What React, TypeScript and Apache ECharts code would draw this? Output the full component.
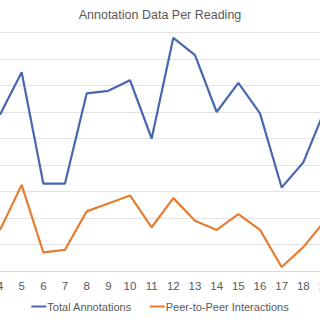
import React, { useEffect, useRef } from "react";
import * as echarts from "echarts";

// Readings shown on the x axis
const readings = ["4", "5", "6", "7", "8", "9", "10", "11", "12", "13", "14", "15", "16", "17", "18", "19"];

// Annotation counts per reading
const totalAnnotations = [59, 75, 33, 33, 67, 68, 72, 50, 88, 81.5, 60, 71, 59.5, 31.5, 41, 61];
const peerInteractions = [15.5, 32.5, 7, 8, 22.5, 25.5, 28.5, 16.5, 27.5, 19, 15.5, 21.5, 15.5, 1.5, 9, 19];

const seriesNames = ["Total Annotations", "Peer-to-Peer Interactions"];
const seriesColors = ["#4767ae", "#e67d31"];

const FONT = "Liberation Sans";

export default function App() {
  const ref = useRef<HTMLDivElement>(null);

  useEffect(() => {
    document.body.style.margin = "0";
    if (!ref.current) return;
    const chart = echarts.init(ref.current, undefined, { renderer: "svg" });
    chart.setOption({
      animation: false,
      backgroundColor: "#ffffff",
      textStyle: { fontFamily: FONT },
      title: {
        text: "Annotation Data Per Reading",
        left: "center",
        top: 3,
        textStyle: { fontFamily: FONT, fontSize: 12.5, fontWeight: "normal", color: "#595959" },
      },
      legend: {
        bottom: 3,
        left: "center",
        icon: "rect",
        itemWidth: 15,
        itemHeight: 2,
        itemGap: 18,
        textStyle: { fontFamily: FONT, fontSize: 11, color: "#595959", padding: [0, 0, 0, -4] },
        data: seriesNames,
      },
      grid: {
        left: 0,
        right: -5,
        top: 32.5,
        bottom: 49,
        containLabel: false,
        outerBoundsMode: "none",
      },
      xAxis: {
        type: "category",
        data: readings,
        boundaryGap: false,
        axisLine: { lineStyle: { color: "#d9d9d9", width: 1 } },
        axisTick: { show: false },
        axisLabel: { interval: 0, color: "#595959", fontSize: 11.5, fontFamily: FONT, margin: 9 },
      },
      yAxis: {
        type: "value",
        min: 0,
        max: 90,
        interval: 10,
        axisLabel: { show: false },
        axisLine: { show: false },
        axisTick: { show: false },
        splitLine: { lineStyle: { color: "#e3e3e3", width: 1 } },
      },
      series: [
        {
          name: seriesNames[0],
          type: "line",
          data: totalAnnotations,
          symbol: "none",
          color: seriesColors[0],
          lineStyle: { width: 2.2, color: seriesColors[0] },
        },
        {
          name: seriesNames[1],
          type: "line",
          data: peerInteractions,
          symbol: "none",
          color: seriesColors[1],
          lineStyle: { width: 2.2, color: seriesColors[1] },
        },
      ],
    });
    return () => chart.dispose();
  }, []);

  return <div ref={ref} style={{ width: 320, height: 320 }} />;
}
